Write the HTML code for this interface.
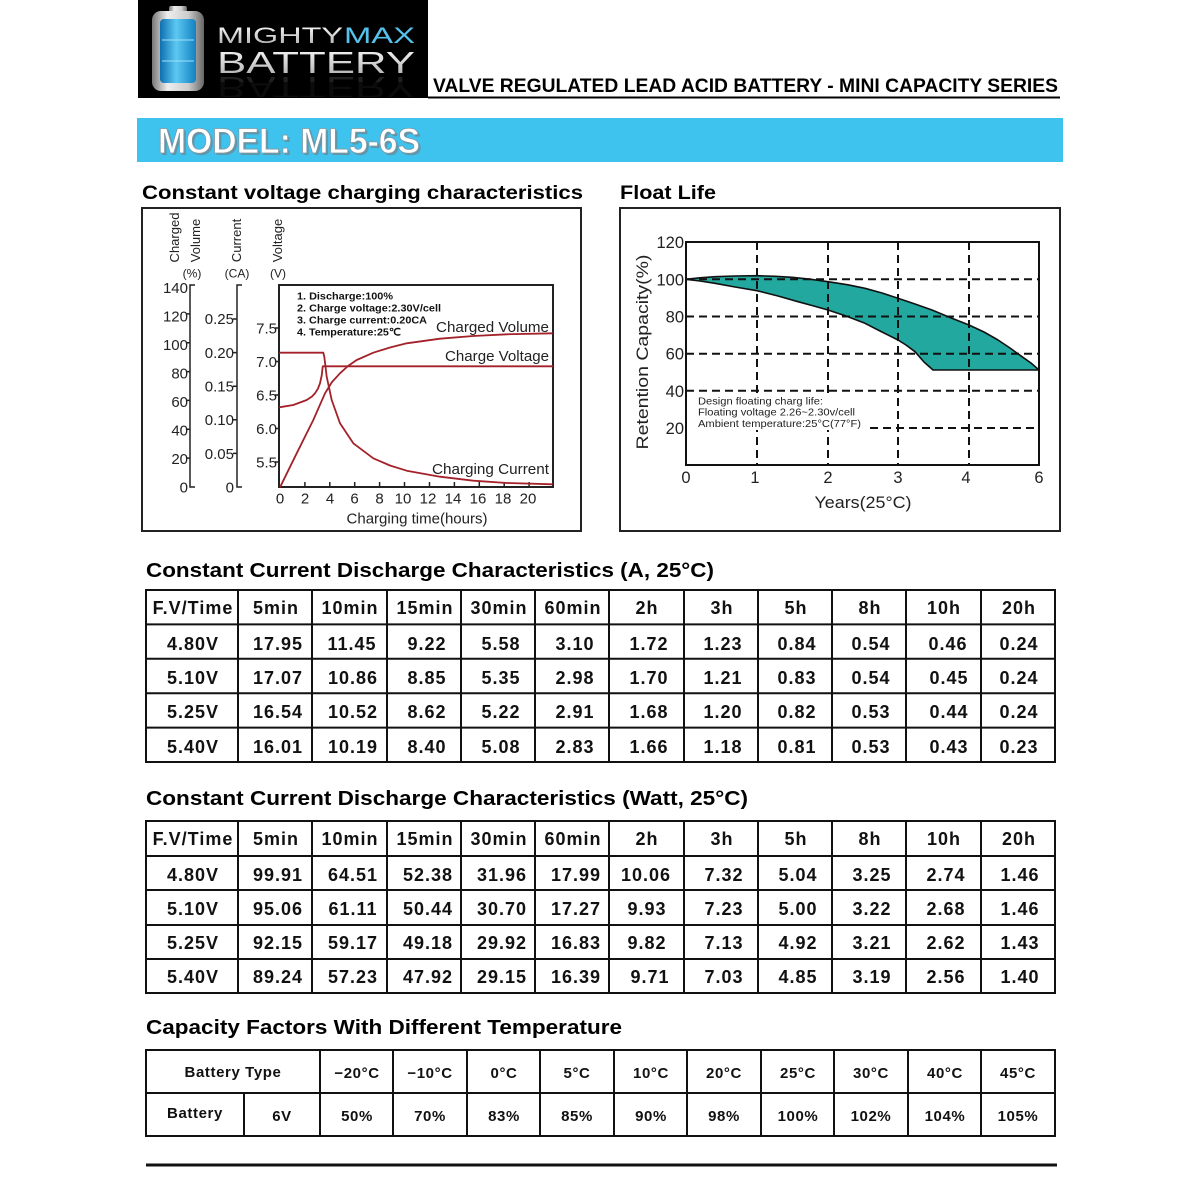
<!DOCTYPE html>
<html><head><meta charset="utf-8"><style>
html,body{margin:0;padding:0;background:#fff;}
svg{display:block;}
text{font-family:"Liberation Sans",Arial,sans-serif;}
.b{font-weight:bold;}
.tb text{font-weight:bold;font-size:18px;letter-spacing:1px;text-anchor:middle;fill:#111;}
.t3 text{font-weight:bold;font-size:15px;letter-spacing:0.6px;text-anchor:middle;fill:#111;}
</style></head><body>
<svg width="1200" height="1200" viewBox="0 0 1200 1200" xmlns="http://www.w3.org/2000/svg">
<defs>
<linearGradient id="silver" x1="0" y1="0" x2="1" y2="0">
<stop offset="0" stop-color="#777"/><stop offset="0.3" stop-color="#eee"/><stop offset="0.7" stop-color="#ccc"/><stop offset="1" stop-color="#666"/>
</linearGradient>
<linearGradient id="blue" x1="0" y1="0" x2="1" y2="0">
<stop offset="0" stop-color="#0f6fb0"/><stop offset="0.45" stop-color="#5cc8f2"/><stop offset="1" stop-color="#1480c0"/>
</linearGradient>
<linearGradient id="txt" x1="0" y1="0" x2="0" y2="1">
<stop offset="0" stop-color="#ffffff"/><stop offset="1" stop-color="#a8a8a8"/>
</linearGradient>
<clipPath id="logoclip"><rect x="138" y="0" width="290" height="97"/></clipPath>
</defs>
<rect width="1200" height="1200" fill="#fff"/>

<!-- Logo -->
<rect x="138" y="0" width="290" height="98" fill="#000"/>
<rect x="169" y="6" width="18" height="8" rx="2" fill="url(#silver)"/>
<rect x="152" y="11" width="52" height="80" rx="9" fill="url(#silver)"/>
<rect x="160" y="19" width="36" height="64" rx="4" fill="url(#blue)"/>
<line x1="162" y1="40" x2="194" y2="40" stroke="#9fe0fa" stroke-width="1"/>
<line x1="162" y1="61" x2="194" y2="61" stroke="#9fe0fa" stroke-width="1"/>
<text x="217" y="43" font-size="22" textLength="126" lengthAdjust="spacingAndGlyphs" fill="url(#txt)">MIGHTY</text>
<text x="344" y="43" font-size="22" textLength="71" lengthAdjust="spacingAndGlyphs" fill="#56c2ec">MAX</text>
<text x="217" y="73" font-size="31" textLength="198" lengthAdjust="spacingAndGlyphs" fill="url(#txt)">BATTERY</text>
<g clip-path="url(#logoclip)">
<text x="217" y="77" font-size="31" textLength="198" lengthAdjust="spacingAndGlyphs" fill="#666" opacity="0.3" transform="translate(0,154) scale(1,-1)">BATTERY</text>
<rect x="210" y="82" width="215" height="16" fill="#000" opacity="0.6"/>
</g>

<!-- Header title -->
<text x="433" y="92" class="b" font-size="19.5" textLength="625" lengthAdjust="spacingAndGlyphs" fill="#000">VALVE REGULATED LEAD ACID BATTERY - MINI CAPACITY SERIES</text>
<line x1="428" y1="97.5" x2="1060" y2="97.5" stroke="#000" stroke-width="2"/>

<!-- Model bar -->
<rect x="137" y="118" width="926" height="44" fill="#3ec3ee"/>
<text x="160" y="155" class="b" font-size="35" textLength="262" lengthAdjust="spacingAndGlyphs" fill="#6a8b98" opacity="0.8">MODEL: ML5-6S</text>
<text x="158" y="153" class="b" font-size="35" textLength="262" lengthAdjust="spacingAndGlyphs" fill="#ffffff" stroke="#7d9aa6" stroke-width="0.8">MODEL: ML5-6S</text>

<!-- Section titles -->
<text x="142" y="199" class="b" font-size="19" textLength="441" lengthAdjust="spacingAndGlyphs" fill="#000">Constant voltage charging characteristics</text>
<text x="620" y="199" class="b" font-size="19" textLength="96" lengthAdjust="spacingAndGlyphs" fill="#000">Float Life</text>

<!-- Chart 1 -->
<rect x="142" y="208" width="439" height="323" fill="none" stroke="#222" stroke-width="2"/>
<g font-size="13" fill="#222" text-anchor="middle">
<text transform="translate(179,237.5) rotate(-90)">Charged</text>
<text transform="translate(200,240.5) rotate(-90)">Volume</text>
<text transform="translate(241,240.5) rotate(-90)">Current</text>
<text transform="translate(282,240.5) rotate(-90)">Voltage</text>
<text x="192" y="277.5" font-size="12">(%)</text>
<text x="237" y="277.5" font-size="12">(CA)</text>
<text x="278" y="277.5" font-size="12">(V)</text>
</g>
<g stroke="#222" stroke-width="1.5" fill="none">
<path d="M195,285 H190 V487 H195"/>
<path d="M186,313.9 H190 M186,342.7 H190 M186,371.6 H190 M186,400.4 H190 M186,429.3 H190 M186,458.1 H190"/>
<path d="M242,285 H237 V487 H242"/>
<path d="M233,319 H237 M233,352.6 H237 M233,386.2 H237 M233,419.8 H237 M233,453.4 H237"/>
<path d="M275,328 H279 M275,361.5 H279 M275,395 H279 M275,428.5 H279 M275,462 H279"/>
<path d="M304.9,487 V482 M329.8,487 V482 M354.7,487 V482 M379.6,487 V482 M404.5,487 V482 M429.5,487 V482 M454.4,487 V482 M479.3,487 V482 M504.2,487 V482 M529.1,487 V482"/>
</g>
<g font-size="15" fill="#222" text-anchor="end">
<text x="188" y="293">140</text><text x="188" y="321.5">120</text><text x="188" y="350">100</text>
<text x="188" y="378.5">80</text><text x="188" y="407">60</text><text x="188" y="435.5">40</text>
<text x="188" y="464">20</text><text x="188" y="492.5">0</text>
<text x="234" y="324">0.25</text><text x="234" y="358">0.20</text><text x="234" y="391.5">0.15</text>
<text x="234" y="425">0.10</text><text x="234" y="459">0.05</text><text x="234" y="492.5">0</text>
<text x="277" y="333.5">7.5</text><text x="277" y="367">7.0</text><text x="277" y="400.5">6.5</text>
<text x="277" y="434">6.0</text><text x="277" y="467.5">5.5</text>
</g>
<g font-size="15" fill="#222" text-anchor="middle">
<text x="280" y="503.5">0</text><text x="305" y="503.5">2</text><text x="330" y="503.5">4</text>
<text x="354.5" y="503.5">6</text><text x="379.5" y="503.5">8</text><text x="403" y="503.5">10</text>
<text x="428" y="503.5">12</text><text x="453" y="503.5">14</text><text x="478" y="503.5">16</text>
<text x="503" y="503.5">18</text><text x="528" y="503.5">20</text>
<text x="417" y="523.5" textLength="141" lengthAdjust="spacingAndGlyphs">Charging time(hours)</text>
</g>
<rect x="279" y="285" width="274" height="202" fill="none" stroke="#222" stroke-width="2"/>
<g class="b" font-size="10" fill="#111">
<text x="297" y="299.5" textLength="96" lengthAdjust="spacingAndGlyphs">1. Discharge:100%</text>
<text x="297" y="311.5" textLength="144" lengthAdjust="spacingAndGlyphs">2. Charge voltage:2.30V/cell</text>
<text x="297" y="323.5" textLength="130" lengthAdjust="spacingAndGlyphs">3. Charge current:0.20CA</text>
<text x="297" y="335.5" textLength="104" lengthAdjust="spacingAndGlyphs">4. Temperature:25℃</text>
</g>
<g font-size="15" fill="#222" text-anchor="end">
<text x="549" y="332" textLength="113" lengthAdjust="spacingAndGlyphs">Charged Volume</text>
<text x="549" y="361" textLength="104" lengthAdjust="spacingAndGlyphs">Charge Voltage</text>
<text x="549" y="474" textLength="117" lengthAdjust="spacingAndGlyphs">Charging Current</text>
</g>
<g fill="none" stroke="#a3222a" stroke-width="1.8" stroke-linejoin="round">
<polyline points="279.3,407.3 293.3,405 306.7,400 312,396.5 315,393.3 318,388.5 320,383.3 321.8,375 322.7,366.3 553,366.3"/>
<polyline points="279.3,352.7 323.3,352.7 324.3,356.7 326.7,376.7 331.7,400 340,423.3 353.3,443.3 373.3,458.3 390,465.5 406.7,470.7 440,476.7 473.3,480.7 506.7,483 552.7,484.3"/>
<polyline points="280,487.3 296.7,453.3 313.3,420 325,393.3 332,382 340,373.3 348,366 356.7,360 373.3,352.7 390,347.5 406.7,343.3 440,338.7 473.3,336 506.7,334.3 552.7,333.3"/>
</g>

<!-- Chart 2 -->
<rect x="620" y="208" width="440" height="323" fill="none" stroke="#222" stroke-width="2"/>
<path d="M686,279.3 L700,277.8 715,276.7 735,276 757,275.7 775,276.3 792,277.3 810,279.2 828,281.7 848,284.8 865,288.3 882,293 898,298.3 915,304 932,310 950,317.5 969,325 984,332 998,340 1010,348 1022,356.7 1031,363 1039,370 L933,370 L924,362 915,351.7 906,345 898,340 880,331 865,323.3 846,316 828,310 812,305.5 798,301.7 778,296 757,290.7 735,287 715,283.3 700,281 Z" fill="#22a89e" stroke="#111" stroke-width="1.6" stroke-linejoin="round"/>
<g stroke="#111" stroke-width="2" stroke-dasharray="8 5" fill="none">
<path d="M686,279.3 H1039 M686,316.5 H1039 M686,353.7 H1039 M686,390.8 H1039 M870,428 H1039"/>
<path d="M757,242 V465 M828,242 V465 M898,242 V465 M969,242 V465"/>
</g>
<rect x="692" y="394" width="172" height="36" fill="#fff"/>
<g font-size="10.5" fill="#222">
<text x="698" y="404.5" textLength="125" lengthAdjust="spacingAndGlyphs">Design floating charg life:</text>
<text x="698" y="415.5" textLength="157" lengthAdjust="spacingAndGlyphs">Floating voltage 2.26~2.30v/cell</text>
<text x="698" y="427" textLength="163" lengthAdjust="spacingAndGlyphs">Ambient temperature:25°C(77°F)</text>
</g>
<rect x="686" y="242" width="353" height="223" fill="none" stroke="#111" stroke-width="2"/>
<g font-size="16.5" fill="#222" text-anchor="end">
<text x="684" y="248">120</text><text x="684" y="285.3">100</text><text x="684" y="322.5">80</text>
<text x="684" y="359.7">60</text><text x="684" y="396.8">40</text><text x="684" y="434">20</text>
</g>
<g font-size="16.5" fill="#222" text-anchor="middle">
<text x="686" y="483">0</text><text x="755" y="483">1</text><text x="828" y="483">2</text>
<text x="898" y="483">3</text><text x="966" y="483">4</text><text x="1039" y="483">6</text>
<text x="863" y="508" textLength="97" lengthAdjust="spacingAndGlyphs">Years(25°C)</text>
<text transform="translate(648,352) rotate(-90)" textLength="195" lengthAdjust="spacingAndGlyphs">Retention Capacity(%)</text>
</g>

<!-- Table 1 -->
<text x="146" y="577" class="b" font-size="20" textLength="568" lengthAdjust="spacingAndGlyphs" fill="#000">Constant Current Discharge Characteristics (A, 25°C)</text>
<g stroke="#111" stroke-width="2" fill="none">
<rect x="146" y="590" width="909" height="172"/>
<path d="M146,624.4 H1055 M146,658.8 H1055 M146,693.2 H1055 M146,727.6 H1055"/>
<path d="M238,590 V762 M312,590 V762 M387,590 V762 M461,590 V762 M535,590 V762 M609,590 V762 M684,590 V762 M758,590 V762 M832,590 V762 M906,590 V762 M981,590 V762"/>
</g>
<g class="tb">
<text x="193" y="614">F.V/Time</text><text x="276" y="614">5min</text><text x="350" y="614">10min</text><text x="425" y="614">15min</text><text x="499" y="614">30min</text><text x="573" y="614">60min</text><text x="647" y="614">2h</text><text x="722" y="614">3h</text><text x="796" y="614">5h</text><text x="870" y="614">8h</text><text x="944" y="614">10h</text><text x="1019" y="614">20h</text>
<text x="193" y="650">4.80V</text><text x="278" y="650">17.95</text><text x="352" y="650">11.45</text><text x="427" y="650">9.22</text><text x="501" y="650">5.58</text><text x="575" y="650">3.10</text><text x="649" y="650">1.72</text><text x="723" y="650">1.23</text><text x="797" y="650">0.84</text><text x="871" y="650">0.54</text><text x="948" y="650">0.46</text><text x="1019" y="650">0.24</text>
<text x="193" y="684">5.10V</text><text x="278" y="684">17.07</text><text x="353" y="684">10.86</text><text x="427" y="684">8.85</text><text x="501" y="684">5.35</text><text x="575" y="684">2.98</text><text x="649" y="684">1.70</text><text x="723" y="684">1.21</text><text x="797" y="684">0.83</text><text x="871" y="684">0.54</text><text x="949" y="684">0.45</text><text x="1019" y="684">0.24</text>
<text x="193" y="718">5.25V</text><text x="278" y="718">16.54</text><text x="353" y="718">10.52</text><text x="427" y="718">8.62</text><text x="501" y="718">5.22</text><text x="575" y="718">2.91</text><text x="649" y="718">1.68</text><text x="723" y="718">1.20</text><text x="797" y="718">0.82</text><text x="871" y="718">0.53</text><text x="949" y="718">0.44</text><text x="1019" y="718">0.24</text>
<text x="193" y="753">5.40V</text><text x="278" y="753">16.01</text><text x="353" y="753">10.19</text><text x="427" y="753">8.40</text><text x="501" y="753">5.08</text><text x="575" y="753">2.83</text><text x="649" y="753">1.66</text><text x="723" y="753">1.18</text><text x="797" y="753">0.81</text><text x="871" y="753">0.53</text><text x="949" y="753">0.43</text><text x="1019" y="753">0.23</text>
</g>

<!-- Table 2 -->
<text x="146" y="805" class="b" font-size="20" textLength="602" lengthAdjust="spacingAndGlyphs" fill="#000">Constant Current Discharge Characteristics (Watt, 25°C)</text>
<g stroke="#111" stroke-width="2" fill="none">
<rect x="146" y="821" width="909" height="172"/>
<path d="M146,856 H1055 M146,890 H1055 M146,925 H1055 M146,959 H1055"/>
<path d="M238,821 V993 M312,821 V993 M387,821 V993 M461,821 V993 M535,821 V993 M609,821 V993 M684,821 V993 M758,821 V993 M832,821 V993 M906,821 V993 M981,821 V993"/>
</g>
<g class="tb">
<text x="193" y="845">F.V/Time</text><text x="276" y="845">5min</text><text x="350" y="845">10min</text><text x="425" y="845">15min</text><text x="499" y="845">30min</text><text x="573" y="845">60min</text><text x="647" y="845">2h</text><text x="722" y="845">3h</text><text x="796" y="845">5h</text><text x="870" y="845">8h</text><text x="944" y="845">10h</text><text x="1019" y="845">20h</text>
<text x="193" y="881">4.80V</text><text x="278" y="881">99.91</text><text x="353" y="881">64.51</text><text x="428" y="881">52.38</text><text x="502" y="881">31.96</text><text x="576" y="881">17.99</text><text x="646" y="881">10.06</text><text x="724" y="881">7.32</text><text x="798" y="881">5.04</text><text x="872" y="881">3.25</text><text x="946" y="881">2.74</text><text x="1020" y="881">1.46</text>
<text x="193" y="915">5.10V</text><text x="278" y="915">95.06</text><text x="353" y="915">61.11</text><text x="428" y="915">50.44</text><text x="502" y="915">30.70</text><text x="576" y="915">17.27</text><text x="647" y="915">9.93</text><text x="724" y="915">7.23</text><text x="798" y="915">5.00</text><text x="872" y="915">3.22</text><text x="946" y="915">2.68</text><text x="1020" y="915">1.46</text>
<text x="193" y="949">5.25V</text><text x="278" y="949">92.15</text><text x="353" y="949">59.17</text><text x="428" y="949">49.18</text><text x="502" y="949">29.92</text><text x="576" y="949">16.83</text><text x="647" y="949">9.82</text><text x="724" y="949">7.13</text><text x="798" y="949">4.92</text><text x="872" y="949">3.21</text><text x="946" y="949">2.62</text><text x="1020" y="949">1.43</text>
<text x="193" y="983">5.40V</text><text x="278" y="983">89.24</text><text x="353" y="983">57.23</text><text x="428" y="983">47.92</text><text x="502" y="983">29.15</text><text x="576" y="983">16.39</text><text x="650" y="983">9.71</text><text x="724" y="983">7.03</text><text x="798" y="983">4.85</text><text x="872" y="983">3.19</text><text x="946" y="983">2.56</text><text x="1020" y="983">1.40</text>
</g>

<!-- Table 3 -->
<text x="146" y="1034" class="b" font-size="20" textLength="476" lengthAdjust="spacingAndGlyphs" fill="#000">Capacity Factors With Different Temperature</text>
<g stroke="#111" stroke-width="2" fill="none">
<rect x="146" y="1050" width="909" height="86"/>
<path d="M146,1093 H1055"/>
<path d="M244,1093 V1136 M320,1050 V1136 M393,1050 V1136 M467,1050 V1136 M540,1050 V1136 M614,1050 V1136 M687,1050 V1136 M761,1050 V1136 M834,1050 V1136 M908,1050 V1136 M981,1050 V1136"/>
</g>
<g class="t3">
<text x="233" y="1077">Battery Type</text>
<text x="357" y="1078">−20°C</text><text x="430" y="1078">−10°C</text><text x="504" y="1078">0°C</text><text x="577" y="1078">5°C</text><text x="651" y="1078">10°C</text><text x="724" y="1078">20°C</text><text x="798" y="1078">25°C</text><text x="871" y="1078">30°C</text><text x="945" y="1078">40°C</text><text x="1018" y="1078">45°C</text>
<text x="195" y="1118">Battery</text><text x="282" y="1121">6V</text>
<text x="357" y="1121">50%</text><text x="430" y="1121">70%</text><text x="504" y="1121">83%</text><text x="577" y="1121">85%</text><text x="651" y="1121">90%</text><text x="724" y="1121">98%</text><text x="798" y="1121">100%</text><text x="871" y="1121">102%</text><text x="945" y="1121">104%</text><text x="1018" y="1121">105%</text>
</g>
<line x1="146" y1="1165" x2="1057" y2="1165" stroke="#111" stroke-width="3"/>
</svg>
</body></html>
